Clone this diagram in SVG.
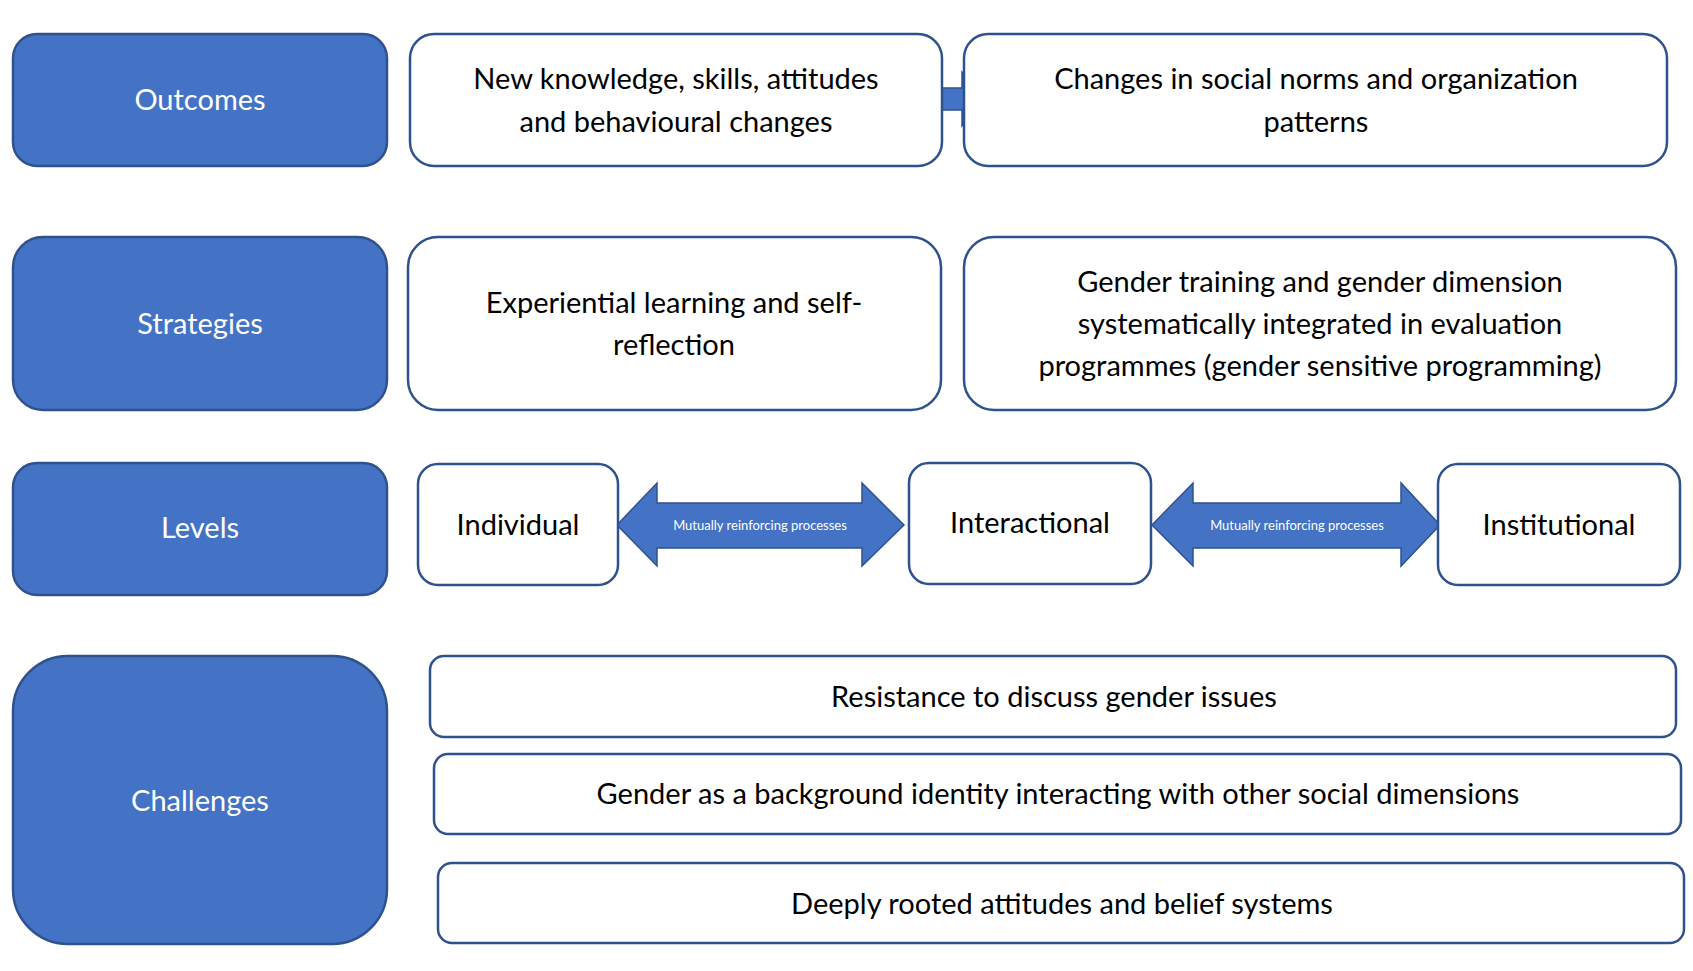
<svg xmlns="http://www.w3.org/2000/svg" width="1693" height="971" viewBox="0 0 1693 971">
<style>
.lab{fill:#4472C4;stroke:#2F528F;stroke-width:2.5}
.box{fill:#fff;stroke:#2F528F;stroke-width:2.5}
.arr{fill:#4472C4;stroke:#2F528F;stroke-width:1.5}
text{font-family:Lato,"Open Sans",sans-serif;font-size:29px;text-anchor:middle;fill:#000}
.w{fill:#fff}
.s{font-size:13px;fill:#fff}
</style>
<rect width="1693" height="971" fill="#fff"/>
<g id="connectors">
<polygon class="arr" points="908,99 935,72 935,88 962,88 962,72 988,99 962,126 962,110 935,110 935,126"/>
<polygon class="arr" points="617,525 657,483 657,503 862,503 862,483 904,525 862,566 862,548 657,548 657,566"/>
<text class="s" x="760" y="530">Mutually reinforcing processes</text>
<polygon class="arr" points="1152,525 1193,483 1193,503 1401,503 1401,483 1440,525 1401,566 1401,548 1193,548 1193,566"/>
<text class="s" x="1297" y="530">Mutually reinforcing processes</text>
</g>
<g id="outcomes"><rect class="lab" x="13" y="34" width="374" height="132" rx="24"/><text class="w" x="200" y="110">Outcomes</text></g>
<g id="strategies"><rect class="lab" x="13" y="237" width="374" height="173" rx="30"/><text class="w" x="200" y="334">Strategies</text></g>
<g id="levels"><rect class="lab" x="13" y="463" width="374" height="132" rx="24"/><text class="w" x="200" y="538">Levels</text></g>
<g id="challenges"><rect class="lab" x="13" y="656" width="374" height="288" rx="55"/><text class="w" x="200" y="811">Challenges</text></g>
<g id="out1"><rect class="box" x="410" y="34" width="532" height="132" rx="24"/><text x="676" y="89">New knowledge, skills, attitudes</text><text x="676" y="132">and behavioural changes</text></g>
<g id="out2"><rect class="box" x="964" y="34" width="703" height="132" rx="24"/><text x="1316" y="89">Changes in social norms and organization</text><text x="1316" y="132">patterns</text></g>
<g id="str1"><rect class="box" x="408" y="237" width="533" height="173" rx="30"/><text x="674" y="313">Experiential learning and self-</text><text x="674" y="355">reflection</text></g>
<g id="str2"><rect class="box" x="964" y="237" width="712" height="173" rx="30"/><text x="1320" y="292">Gender training and gender dimension</text><text x="1320" y="334">systematically integrated in evaluation</text><text x="1320" y="376">programmes (gender sensitive programming)</text></g>
<g id="individual"><rect class="box" x="418" y="464" width="200" height="121" rx="20"/><text x="518" y="535">Individual</text></g>
<g id="interactional"><rect class="box" x="909" y="463" width="242" height="121" rx="20"/><text x="1030" y="533">Interactional</text></g>
<g id="institutional"><rect class="box" x="1438" y="464" width="242" height="121" rx="20"/><text x="1559" y="535">Institutional</text></g>
<g id="ch1"><rect class="box" x="430" y="656" width="1246" height="81" rx="14"/><text x="1054" y="707">Resistance to discuss gender issues</text></g>
<g id="ch2"><rect class="box" x="434" y="754" width="1247" height="80" rx="14"/><text x="1058" y="804">Gender as a background identity interacting with other social dimensions</text></g>
<g id="ch3"><rect class="box" x="438" y="863" width="1246" height="80" rx="14"/><text x="1062" y="914">Deeply rooted attitudes and belief systems</text></g>
</svg>
